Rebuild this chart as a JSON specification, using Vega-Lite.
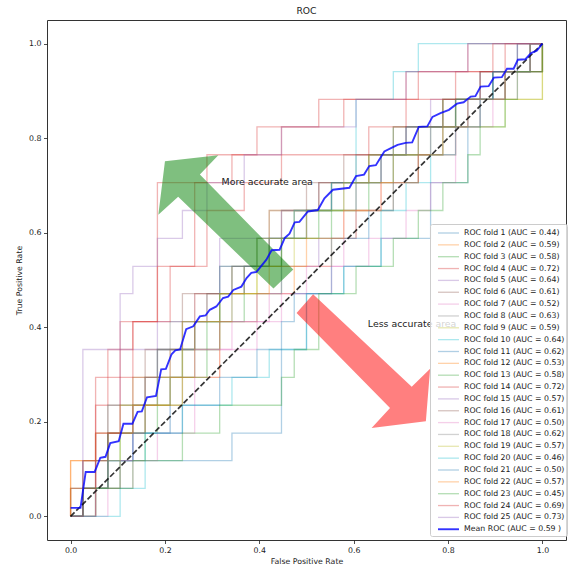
{
  "$schema": "https://vega.github.io/schema/vega-lite/v6.json",
  "width": 519,
  "height": 520,
  "autosize": {"type": "none"},
  "padding": {"left": 47, "top": 20, "right": 20, "bottom": 34},
  "title": {"text": "ROC", "frame": "group", "anchor": "middle", "font": "DejaVu Sans", "fontSize": 9.2, "fontWeight": "normal", "color": "#222", "offset": 4},
  "datasets": {
    "labels": [
      {"f": 1, "label": "ROC fold 1 (AUC = 0.44)"},
      {"f": 2, "label": "ROC fold 2 (AUC = 0.59)"},
      {"f": 3, "label": "ROC fold 3 (AUC = 0.58)"},
      {"f": 4, "label": "ROC fold 4 (AUC = 0.72)"},
      {"f": 5, "label": "ROC fold 5 (AUC = 0.64)"},
      {"f": 6, "label": "ROC fold 6 (AUC = 0.61)"},
      {"f": 7, "label": "ROC fold 7 (AUC = 0.52)"},
      {"f": 8, "label": "ROC fold 8 (AUC = 0.63)"},
      {"f": 9, "label": "ROC fold 9 (AUC = 0.59)"},
      {"f": 10, "label": "ROC fold 10 (AUC = 0.64)"},
      {"f": 11, "label": "ROC fold 11 (AUC = 0.62)"},
      {"f": 12, "label": "ROC fold 12 (AUC = 0.53)"},
      {"f": 13, "label": "ROC fold 13 (AUC = 0.58)"},
      {"f": 14, "label": "ROC fold 14 (AUC = 0.72)"},
      {"f": 15, "label": "ROC fold 15 (AUC = 0.57)"},
      {"f": 16, "label": "ROC fold 16 (AUC = 0.61)"},
      {"f": 17, "label": "ROC fold 17 (AUC = 0.50)"},
      {"f": 18, "label": "ROC fold 18 (AUC = 0.62)"},
      {"f": 19, "label": "ROC fold 19 (AUC = 0.57)"},
      {"f": 20, "label": "ROC fold 20 (AUC = 0.46)"},
      {"f": 21, "label": "ROC fold 21 (AUC = 0.50)"},
      {"f": 22, "label": "ROC fold 22 (AUC = 0.57)"},
      {"f": 23, "label": "ROC fold 23 (AUC = 0.45)"},
      {"f": 24, "label": "ROC fold 24 (AUC = 0.69)"},
      {"f": 25, "label": "ROC fold 25 (AUC = 0.73)"},
      {"f": 26, "label": "Mean ROC (AUC = 0.59 )"}
    ],
    "folds": [
      {"f":1,"x":0,"y":0},{"f":1,"x":0.026,"y":0.059},{"f":1,"x":0.079,"y":0.118},{"f":1,"x":0.342,"y":0.176},{"f":1,"x":0.447,"y":0.353},{"f":1,"x":0.5,"y":0.471},{"f":1,"x":0.579,"y":0.529},{"f":1,"x":0.658,"y":0.588},{"f":1,"x":0.763,"y":0.706},{"f":1,"x":0.842,"y":0.824},{"f":1,"x":0.868,"y":0.941},{"f":1,"x":0.947,"y":1},{"f":1,"x":1,"y":1},
      {"f":2,"x":0,"y":0},{"f":2,"x":0,"y":0.118},{"f":2,"x":0.079,"y":0.176},{"f":2,"x":0.132,"y":0.294},{"f":2,"x":0.211,"y":0.353},{"f":2,"x":0.263,"y":0.471},{"f":2,"x":0.342,"y":0.529},{"f":2,"x":0.421,"y":0.647},{"f":2,"x":0.526,"y":0.706},{"f":2,"x":0.632,"y":0.765},{"f":2,"x":0.711,"y":0.824},{"f":2,"x":0.789,"y":0.882},{"f":2,"x":0.868,"y":0.941},{"f":2,"x":0.974,"y":1},{"f":2,"x":1,"y":1},
      {"f":3,"x":0,"y":0},{"f":3,"x":0.053,"y":0.059},{"f":3,"x":0.105,"y":0.176},{"f":3,"x":0.184,"y":0.235},{"f":3,"x":0.237,"y":0.353},{"f":3,"x":0.316,"y":0.471},{"f":3,"x":0.368,"y":0.529},{"f":3,"x":0.447,"y":0.588},{"f":3,"x":0.553,"y":0.647},{"f":3,"x":0.632,"y":0.765},{"f":3,"x":0.684,"y":0.824},{"f":3,"x":0.789,"y":0.882},{"f":3,"x":0.895,"y":0.941},{"f":3,"x":1,"y":1},
      {"f":4,"x":0,"y":0},{"f":4,"x":0.026,"y":0.118},{"f":4,"x":0.053,"y":0.235},{"f":4,"x":0.079,"y":0.353},{"f":4,"x":0.132,"y":0.412},{"f":4,"x":0.184,"y":0.529},{"f":4,"x":0.263,"y":0.706},{"f":4,"x":0.342,"y":0.765},{"f":4,"x":0.447,"y":0.824},{"f":4,"x":0.579,"y":0.882},{"f":4,"x":0.711,"y":0.941},{"f":4,"x":0.842,"y":1},{"f":4,"x":1,"y":1},
      {"f":5,"x":0,"y":0},{"f":5,"x":0.026,"y":0.059},{"f":5,"x":0.079,"y":0.176},{"f":5,"x":0.105,"y":0.353},{"f":5,"x":0.184,"y":0.412},{"f":5,"x":0.263,"y":0.471},{"f":5,"x":0.316,"y":0.588},{"f":5,"x":0.447,"y":0.647},{"f":5,"x":0.526,"y":0.706},{"f":5,"x":0.632,"y":0.765},{"f":5,"x":0.711,"y":0.824},{"f":5,"x":0.763,"y":0.882},{"f":5,"x":0.868,"y":0.941},{"f":5,"x":0.947,"y":1},{"f":5,"x":1,"y":1},
      {"f":6,"x":0,"y":0},{"f":6,"x":0,"y":0.059},{"f":6,"x":0.053,"y":0.118},{"f":6,"x":0.079,"y":0.235},{"f":6,"x":0.158,"y":0.353},{"f":6,"x":0.237,"y":0.412},{"f":6,"x":0.289,"y":0.471},{"f":6,"x":0.368,"y":0.529},{"f":6,"x":0.447,"y":0.647},{"f":6,"x":0.553,"y":0.706},{"f":6,"x":0.658,"y":0.765},{"f":6,"x":0.737,"y":0.824},{"f":6,"x":0.816,"y":0.882},{"f":6,"x":0.921,"y":0.941},{"f":6,"x":1,"y":1},
      {"f":7,"x":0,"y":0},{"f":7,"x":0.079,"y":0.059},{"f":7,"x":0.132,"y":0.176},{"f":7,"x":0.211,"y":0.294},{"f":7,"x":0.316,"y":0.353},{"f":7,"x":0.395,"y":0.412},{"f":7,"x":0.447,"y":0.471},{"f":7,"x":0.553,"y":0.529},{"f":7,"x":0.632,"y":0.588},{"f":7,"x":0.711,"y":0.647},{"f":7,"x":0.763,"y":0.706},{"f":7,"x":0.816,"y":0.824},{"f":7,"x":0.895,"y":0.882},{"f":7,"x":0.947,"y":0.941},{"f":7,"x":0.974,"y":1},{"f":7,"x":1,"y":1},
      {"f":8,"x":0,"y":0},{"f":8,"x":0.026,"y":0.118},{"f":8,"x":0.079,"y":0.235},{"f":8,"x":0.158,"y":0.294},{"f":8,"x":0.211,"y":0.412},{"f":8,"x":0.289,"y":0.471},{"f":8,"x":0.368,"y":0.529},{"f":8,"x":0.421,"y":0.647},{"f":8,"x":0.526,"y":0.706},{"f":8,"x":0.605,"y":0.765},{"f":8,"x":0.711,"y":0.824},{"f":8,"x":0.789,"y":0.882},{"f":8,"x":0.895,"y":0.941},{"f":8,"x":0.974,"y":1},{"f":8,"x":1,"y":1},
      {"f":9,"x":0,"y":0},{"f":9,"x":0.053,"y":0.059},{"f":9,"x":0.079,"y":0.176},{"f":9,"x":0.158,"y":0.294},{"f":9,"x":0.237,"y":0.353},{"f":9,"x":0.316,"y":0.471},{"f":9,"x":0.395,"y":0.529},{"f":9,"x":0.474,"y":0.647},{"f":9,"x":0.553,"y":0.706},{"f":9,"x":0.632,"y":0.765},{"f":9,"x":0.737,"y":0.824},{"f":9,"x":0.816,"y":0.882},{"f":9,"x":1,"y":1},
      {"f":10,"x":0,"y":0},{"f":10,"x":0.026,"y":0.059},{"f":10,"x":0.079,"y":0.118},{"f":10,"x":0.132,"y":0.176},{"f":10,"x":0.211,"y":0.294},{"f":10,"x":0.263,"y":0.412},{"f":10,"x":0.342,"y":0.529},{"f":10,"x":0.421,"y":0.588},{"f":10,"x":0.474,"y":0.647},{"f":10,"x":0.553,"y":0.706},{"f":10,"x":0.605,"y":0.882},{"f":10,"x":0.684,"y":0.941},{"f":10,"x":0.737,"y":1},{"f":10,"x":1,"y":1},
      {"f":11,"x":0,"y":0},{"f":11,"x":0.053,"y":0.059},{"f":11,"x":0.079,"y":0.118},{"f":11,"x":0.132,"y":0.235},{"f":11,"x":0.184,"y":0.353},{"f":11,"x":0.263,"y":0.412},{"f":11,"x":0.316,"y":0.529},{"f":11,"x":0.395,"y":0.588},{"f":11,"x":0.5,"y":0.647},{"f":11,"x":0.553,"y":0.706},{"f":11,"x":0.658,"y":0.765},{"f":11,"x":0.711,"y":0.824},{"f":11,"x":0.816,"y":0.882},{"f":11,"x":0.895,"y":0.941},{"f":11,"x":1,"y":1},
      {"f":12,"x":0,"y":0},{"f":12,"x":0,"y":0.059},{"f":12,"x":0.079,"y":0.176},{"f":12,"x":0.158,"y":0.235},{"f":12,"x":0.237,"y":0.294},{"f":12,"x":0.316,"y":0.412},{"f":12,"x":0.395,"y":0.471},{"f":12,"x":0.474,"y":0.529},{"f":12,"x":0.553,"y":0.588},{"f":12,"x":0.605,"y":0.647},{"f":12,"x":0.684,"y":0.706},{"f":12,"x":0.737,"y":0.765},{"f":12,"x":0.816,"y":0.824},{"f":12,"x":0.868,"y":0.882},{"f":12,"x":0.921,"y":0.941},{"f":12,"x":1,"y":1},
      {"f":13,"x":0,"y":0},{"f":13,"x":0.026,"y":0.059},{"f":13,"x":0.105,"y":0.118},{"f":13,"x":0.158,"y":0.235},{"f":13,"x":0.211,"y":0.294},{"f":13,"x":0.289,"y":0.412},{"f":13,"x":0.368,"y":0.471},{"f":13,"x":0.447,"y":0.588},{"f":13,"x":0.526,"y":0.647},{"f":13,"x":0.605,"y":0.706},{"f":13,"x":0.684,"y":0.765},{"f":13,"x":0.763,"y":0.824},{"f":13,"x":0.816,"y":0.882},{"f":13,"x":0.921,"y":0.941},{"f":13,"x":0.974,"y":1},{"f":13,"x":1,"y":1},
      {"f":14,"x":0,"y":0},{"f":14,"x":0.053,"y":0.294},{"f":14,"x":0.105,"y":0.412},{"f":14,"x":0.184,"y":0.706},{"f":14,"x":0.289,"y":0.765},{"f":14,"x":0.395,"y":0.824},{"f":14,"x":0.526,"y":0.882},{"f":14,"x":0.737,"y":0.941},{"f":14,"x":0.921,"y":1},{"f":14,"x":1,"y":1},
      {"f":15,"x":0,"y":0},{"f":15,"x":0.026,"y":0.059},{"f":15,"x":0.079,"y":0.118},{"f":15,"x":0.132,"y":0.176},{"f":15,"x":0.158,"y":0.294},{"f":15,"x":0.237,"y":0.353},{"f":15,"x":0.316,"y":0.412},{"f":15,"x":0.395,"y":0.471},{"f":15,"x":0.447,"y":0.529},{"f":15,"x":0.526,"y":0.588},{"f":15,"x":0.605,"y":0.706},{"f":15,"x":0.684,"y":0.765},{"f":15,"x":0.763,"y":0.824},{"f":15,"x":0.842,"y":0.882},{"f":15,"x":0.921,"y":0.941},{"f":15,"x":0.974,"y":1},{"f":15,"x":1,"y":1},
      {"f":16,"x":0,"y":0},{"f":16,"x":0,"y":0.059},{"f":16,"x":0.026,"y":0.118},{"f":16,"x":0.079,"y":0.176},{"f":16,"x":0.132,"y":0.294},{"f":16,"x":0.184,"y":0.353},{"f":16,"x":0.237,"y":0.471},{"f":16,"x":0.342,"y":0.529},{"f":16,"x":0.421,"y":0.588},{"f":16,"x":0.5,"y":0.706},{"f":16,"x":0.579,"y":0.765},{"f":16,"x":0.684,"y":0.824},{"f":16,"x":0.789,"y":0.882},{"f":16,"x":0.868,"y":0.941},{"f":16,"x":1,"y":1},
      {"f":17,"x":0,"y":0},{"f":17,"x":0.053,"y":0.059},{"f":17,"x":0.105,"y":0.118},{"f":17,"x":0.184,"y":0.176},{"f":17,"x":0.263,"y":0.353},{"f":17,"x":0.342,"y":0.412},{"f":17,"x":0.421,"y":0.471},{"f":17,"x":0.5,"y":0.529},{"f":17,"x":0.579,"y":0.647},{"f":17,"x":0.658,"y":0.706},{"f":17,"x":0.737,"y":0.765},{"f":17,"x":0.816,"y":0.824},{"f":17,"x":0.868,"y":0.882},{"f":17,"x":0.921,"y":0.941},{"f":17,"x":0.974,"y":1},{"f":17,"x":1,"y":1},
      {"f":18,"x":0,"y":0},{"f":18,"x":0.026,"y":0.059},{"f":18,"x":0.053,"y":0.176},{"f":18,"x":0.132,"y":0.235},{"f":18,"x":0.184,"y":0.353},{"f":18,"x":0.263,"y":0.412},{"f":18,"x":0.316,"y":0.529},{"f":18,"x":0.395,"y":0.588},{"f":18,"x":0.474,"y":0.647},{"f":18,"x":0.579,"y":0.706},{"f":18,"x":0.658,"y":0.765},{"f":18,"x":0.737,"y":0.824},{"f":18,"x":0.816,"y":0.882},{"f":18,"x":0.895,"y":0.941},{"f":18,"x":0.947,"y":1},{"f":18,"x":1,"y":1},
      {"f":19,"x":0,"y":0},{"f":19,"x":0.026,"y":0.059},{"f":19,"x":0.079,"y":0.118},{"f":19,"x":0.105,"y":0.235},{"f":19,"x":0.184,"y":0.294},{"f":19,"x":0.237,"y":0.412},{"f":19,"x":0.316,"y":0.471},{"f":19,"x":0.395,"y":0.588},{"f":19,"x":0.5,"y":0.647},{"f":19,"x":0.579,"y":0.706},{"f":19,"x":0.684,"y":0.765},{"f":19,"x":0.789,"y":0.824},{"f":19,"x":0.921,"y":0.882},{"f":19,"x":1,"y":1},
      {"f":20,"x":0,"y":0},{"f":20,"x":0.105,"y":0.059},{"f":20,"x":0.158,"y":0.176},{"f":20,"x":0.237,"y":0.235},{"f":20,"x":0.342,"y":0.294},{"f":20,"x":0.421,"y":0.353},{"f":20,"x":0.5,"y":0.471},{"f":20,"x":0.579,"y":0.529},{"f":20,"x":0.658,"y":0.647},{"f":20,"x":0.711,"y":0.706},{"f":20,"x":0.763,"y":0.765},{"f":20,"x":0.816,"y":0.824},{"f":20,"x":0.868,"y":0.882},{"f":20,"x":0.921,"y":0.941},{"f":20,"x":0.974,"y":1},{"f":20,"x":1,"y":1},
      {"f":21,"x":0,"y":0},{"f":21,"x":0.026,"y":0.059},{"f":21,"x":0.079,"y":0.176},{"f":21,"x":0.237,"y":0.235},{"f":21,"x":0.316,"y":0.294},{"f":21,"x":0.395,"y":0.353},{"f":21,"x":0.447,"y":0.412},{"f":21,"x":0.474,"y":0.471},{"f":21,"x":0.553,"y":0.588},{"f":21,"x":0.632,"y":0.647},{"f":21,"x":0.684,"y":0.706},{"f":21,"x":0.737,"y":0.765},{"f":21,"x":0.789,"y":0.824},{"f":21,"x":0.842,"y":0.882},{"f":21,"x":0.895,"y":0.941},{"f":21,"x":0.974,"y":1},{"f":21,"x":1,"y":1},
      {"f":22,"x":0,"y":0},{"f":22,"x":0,"y":0.118},{"f":22,"x":0.053,"y":0.176},{"f":22,"x":0.132,"y":0.235},{"f":22,"x":0.211,"y":0.294},{"f":22,"x":0.263,"y":0.412},{"f":22,"x":0.342,"y":0.471},{"f":22,"x":0.421,"y":0.529},{"f":22,"x":0.5,"y":0.588},{"f":22,"x":0.579,"y":0.647},{"f":22,"x":0.658,"y":0.706},{"f":22,"x":0.737,"y":0.765},{"f":22,"x":0.789,"y":0.824},{"f":22,"x":0.842,"y":0.882},{"f":22,"x":0.921,"y":0.941},{"f":22,"x":0.974,"y":1},{"f":22,"x":1,"y":1},
      {"f":23,"x":0,"y":0},{"f":23,"x":0.026,"y":0.059},{"f":23,"x":0.132,"y":0.118},{"f":23,"x":0.237,"y":0.176},{"f":23,"x":0.316,"y":0.235},{"f":23,"x":0.447,"y":0.294},{"f":23,"x":0.474,"y":0.353},{"f":23,"x":0.526,"y":0.471},{"f":23,"x":0.605,"y":0.529},{"f":23,"x":0.684,"y":0.588},{"f":23,"x":0.737,"y":0.647},{"f":23,"x":0.789,"y":0.706},{"f":23,"x":0.842,"y":0.765},{"f":23,"x":0.868,"y":0.824},{"f":23,"x":0.921,"y":0.882},{"f":23,"x":0.947,"y":0.941},{"f":23,"x":1,"y":1},
      {"f":24,"x":0,"y":0},{"f":24,"x":0.026,"y":0.059},{"f":24,"x":0.053,"y":0.176},{"f":24,"x":0.105,"y":0.294},{"f":24,"x":0.132,"y":0.412},{"f":24,"x":0.211,"y":0.529},{"f":24,"x":0.289,"y":0.647},{"f":24,"x":0.368,"y":0.706},{"f":24,"x":0.447,"y":0.765},{"f":24,"x":0.632,"y":0.824},{"f":24,"x":0.711,"y":0.882},{"f":24,"x":0.816,"y":0.941},{"f":24,"x":0.895,"y":1},{"f":24,"x":1,"y":1},
      {"f":25,"x":0,"y":0},{"f":25,"x":0.026,"y":0.353},{"f":25,"x":0.105,"y":0.471},{"f":25,"x":0.132,"y":0.529},{"f":25,"x":0.184,"y":0.588},{"f":25,"x":0.237,"y":0.647},{"f":25,"x":0.289,"y":0.706},{"f":25,"x":0.368,"y":0.765},{"f":25,"x":0.447,"y":0.824},{"f":25,"x":0.605,"y":0.882},{"f":25,"x":0.711,"y":0.941},{"f":25,"x":0.842,"y":1},{"f":25,"x":1,"y":1}
    ],
    "mean": [
      {"f":26,"x":0,"y":0.018},{"f":26,"x":0.021,"y":0.018},{"f":26,"x":0.032,"y":0.094},{"f":26,"x":0.051,"y":0.094},{"f":26,"x":0.063,"y":0.124},{"f":26,"x":0.074,"y":0.126},{"f":26,"x":0.084,"y":0.155},{"f":26,"x":0.102,"y":0.159},{"f":26,"x":0.112,"y":0.196},{"f":26,"x":0.131,"y":0.196},{"f":26,"x":0.142,"y":0.221},{"f":26,"x":0.151,"y":0.222},{"f":26,"x":0.162,"y":0.252},{"f":26,"x":0.181,"y":0.255},{"f":26,"x":0.192,"y":0.311},{"f":26,"x":0.202,"y":0.312},{"f":26,"x":0.214,"y":0.343},{"f":26,"x":0.222,"y":0.351},{"f":26,"x":0.232,"y":0.353},{"f":26,"x":0.245,"y":0.396},{"f":26,"x":0.26,"y":0.402},{"f":26,"x":0.274,"y":0.423},{"f":26,"x":0.286,"y":0.425},{"f":26,"x":0.295,"y":0.437},{"f":26,"x":0.309,"y":0.444},{"f":26,"x":0.323,"y":0.462},{"f":26,"x":0.334,"y":0.465},{"f":26,"x":0.345,"y":0.479},{"f":26,"x":0.362,"y":0.486},{"f":26,"x":0.373,"y":0.504},{"f":26,"x":0.383,"y":0.515},{"f":26,"x":0.394,"y":0.517},{"f":26,"x":0.415,"y":0.543},{"f":26,"x":0.426,"y":0.563},{"f":26,"x":0.443,"y":0.564},{"f":26,"x":0.454,"y":0.589},{"f":26,"x":0.464,"y":0.598},{"f":26,"x":0.475,"y":0.622},{"f":26,"x":0.485,"y":0.623},{"f":26,"x":0.503,"y":0.645},{"f":26,"x":0.524,"y":0.648},{"f":26,"x":0.538,"y":0.673},{"f":26,"x":0.556,"y":0.691},{"f":26,"x":0.591,"y":0.695},{"f":26,"x":0.605,"y":0.72},{"f":26,"x":0.622,"y":0.723},{"f":26,"x":0.633,"y":0.741},{"f":26,"x":0.647,"y":0.743},{"f":26,"x":0.665,"y":0.772},{"f":26,"x":0.679,"y":0.779},{"f":26,"x":0.693,"y":0.786},{"f":26,"x":0.71,"y":0.79},{"f":26,"x":0.724,"y":0.791},{"f":26,"x":0.738,"y":0.824},{"f":26,"x":0.756,"y":0.825},{"f":26,"x":0.767,"y":0.845},{"f":26,"x":0.784,"y":0.853},{"f":26,"x":0.802,"y":0.86},{"f":26,"x":0.819,"y":0.873},{"f":26,"x":0.833,"y":0.876},{"f":26,"x":0.848,"y":0.888},{"f":26,"x":0.858,"y":0.889},{"f":26,"x":0.869,"y":0.909},{"f":26,"x":0.886,"y":0.91},{"f":26,"x":0.897,"y":0.928},{"f":26,"x":0.914,"y":0.929},{"f":26,"x":0.925,"y":0.947},{"f":26,"x":0.939,"y":0.947},{"f":26,"x":0.948,"y":0.966},{"f":26,"x":0.964,"y":0.967},{"f":26,"x":0.976,"y":0.98},{"f":26,"x":0.988,"y":0.985},{"f":26,"x":1,"y":1}
    ],
    "chance": [{"x": 0, "y": 0}, {"x": 1, "y": 1}],
    "arrowMore": [
      {"x": 0.43, "y": 0.482}, {"x": 0.472, "y": 0.522}, {"x": 0.274, "y": 0.723}, {"x": 0.313, "y": 0.764},
      {"x": 0.2, "y": 0.751}, {"x": 0.186, "y": 0.638}, {"x": 0.228, "y": 0.676}
    ],
    "arrowLess": [
      {"x": 0.479, "y": 0.43}, {"x": 0.514, "y": 0.47}, {"x": 0.723, "y": 0.274}, {"x": 0.762, "y": 0.312},
      {"x": 0.753, "y": 0.201}, {"x": 0.638, "y": 0.187}, {"x": 0.677, "y": 0.229}
    ],
    "notes": [
      {"x": 0.32, "y": 0.7, "t": "More accurate area"},
      {"x": 0.63, "y": 0.4, "t": "Less accurate area"}
    ]
  },
  "encoding": {
    "x": {
      "field": "x", "type": "quantitative", "title": "False Positive Rate",
      "scale": {"domain": [-0.05, 1.05], "nice": false, "zero": false},
      "axis": {"values": [0, 0.2, 0.4, 0.6, 0.8, 1], "format": ".1f", "titlePadding": 3.5}
    },
    "y": {
      "field": "y", "type": "quantitative", "title": "True Positive Rate",
      "scale": {"domain": [-0.05, 1.05], "nice": false, "zero": false},
      "axis": {"values": [0, 0.2, 0.4, 0.6, 0.8, 1], "format": ".1f", "titlePadding": 5}
    }
  },
  "layer": [
    {
      "data": {"name": "folds"},
      "transform": [{"lookup": "f", "from": {"data": {"name": "labels"}, "key": "f", "fields": ["label"]}}],
      "mark": {"type": "line", "interpolate": "step-after"},
      "encoding": {
        "color": {
          "field": "label", "type": "nominal", "legend": {"title": null},
          "scale": {
            "domain": ["ROC fold 1 (AUC = 0.44)", "ROC fold 2 (AUC = 0.59)", "ROC fold 3 (AUC = 0.58)", "ROC fold 4 (AUC = 0.72)", "ROC fold 5 (AUC = 0.64)", "ROC fold 6 (AUC = 0.61)", "ROC fold 7 (AUC = 0.52)", "ROC fold 8 (AUC = 0.63)", "ROC fold 9 (AUC = 0.59)", "ROC fold 10 (AUC = 0.64)", "ROC fold 11 (AUC = 0.62)", "ROC fold 12 (AUC = 0.53)", "ROC fold 13 (AUC = 0.58)", "ROC fold 14 (AUC = 0.72)", "ROC fold 15 (AUC = 0.57)", "ROC fold 16 (AUC = 0.61)", "ROC fold 17 (AUC = 0.50)", "ROC fold 18 (AUC = 0.62)", "ROC fold 19 (AUC = 0.57)", "ROC fold 20 (AUC = 0.46)", "ROC fold 21 (AUC = 0.50)", "ROC fold 22 (AUC = 0.57)", "ROC fold 23 (AUC = 0.45)", "ROC fold 24 (AUC = 0.69)", "ROC fold 25 (AUC = 0.73)", "Mean ROC (AUC = 0.59 )"],
            "range": ["#1f77b4", "#ff7f0e", "#2ca02c", "#d62728", "#9467bd", "#8c564b", "#e377c2", "#7f7f7f", "#bcbd22", "#17becf", "#1f77b4", "#ff7f0e", "#2ca02c", "#d62728", "#9467bd", "#8c564b", "#e377c2", "#7f7f7f", "#bcbd22", "#17becf", "#1f77b4", "#ff7f0e", "#2ca02c", "#d62728", "#9467bd", "#0000ff"]
          }
        },
        "opacity": {
          "field": "label", "type": "nominal", "legend": {"title": null},
          "scale": {
            "type": "ordinal",
            "domain": ["ROC fold 1 (AUC = 0.44)", "ROC fold 2 (AUC = 0.59)", "ROC fold 3 (AUC = 0.58)", "ROC fold 4 (AUC = 0.72)", "ROC fold 5 (AUC = 0.64)", "ROC fold 6 (AUC = 0.61)", "ROC fold 7 (AUC = 0.52)", "ROC fold 8 (AUC = 0.63)", "ROC fold 9 (AUC = 0.59)", "ROC fold 10 (AUC = 0.64)", "ROC fold 11 (AUC = 0.62)", "ROC fold 12 (AUC = 0.53)", "ROC fold 13 (AUC = 0.58)", "ROC fold 14 (AUC = 0.72)", "ROC fold 15 (AUC = 0.57)", "ROC fold 16 (AUC = 0.61)", "ROC fold 17 (AUC = 0.50)", "ROC fold 18 (AUC = 0.62)", "ROC fold 19 (AUC = 0.57)", "ROC fold 20 (AUC = 0.46)", "ROC fold 21 (AUC = 0.50)", "ROC fold 22 (AUC = 0.57)", "ROC fold 23 (AUC = 0.45)", "ROC fold 24 (AUC = 0.69)", "ROC fold 25 (AUC = 0.73)", "Mean ROC (AUC = 0.59 )"],
            "range": [0.35, 0.35, 0.35, 0.35, 0.35, 0.35, 0.35, 0.35, 0.35, 0.35, 0.35, 0.35, 0.35, 0.35, 0.35, 0.35, 0.35, 0.35, 0.35, 0.35, 0.35, 0.35, 0.35, 0.35, 0.35, 0.8]
          }
        },
        "strokeWidth": {
          "field": "label", "type": "nominal", "legend": {"title": null},
          "scale": {
            "type": "ordinal",
            "domain": ["ROC fold 1 (AUC = 0.44)", "ROC fold 2 (AUC = 0.59)", "ROC fold 3 (AUC = 0.58)", "ROC fold 4 (AUC = 0.72)", "ROC fold 5 (AUC = 0.64)", "ROC fold 6 (AUC = 0.61)", "ROC fold 7 (AUC = 0.52)", "ROC fold 8 (AUC = 0.63)", "ROC fold 9 (AUC = 0.59)", "ROC fold 10 (AUC = 0.64)", "ROC fold 11 (AUC = 0.62)", "ROC fold 12 (AUC = 0.53)", "ROC fold 13 (AUC = 0.58)", "ROC fold 14 (AUC = 0.72)", "ROC fold 15 (AUC = 0.57)", "ROC fold 16 (AUC = 0.61)", "ROC fold 17 (AUC = 0.50)", "ROC fold 18 (AUC = 0.62)", "ROC fold 19 (AUC = 0.57)", "ROC fold 20 (AUC = 0.46)", "ROC fold 21 (AUC = 0.50)", "ROC fold 22 (AUC = 0.57)", "ROC fold 23 (AUC = 0.45)", "ROC fold 24 (AUC = 0.69)", "ROC fold 25 (AUC = 0.73)", "Mean ROC (AUC = 0.59 )"],
            "range": [1.3, 1.3, 1.3, 1.3, 1.3, 1.3, 1.3, 1.3, 1.3, 1.3, 1.3, 1.3, 1.3, 1.3, 1.3, 1.3, 1.3, 1.3, 1.3, 1.3, 1.3, 1.3, 1.3, 1.3, 1.3, 1.9]
          }
        },
        "order": {"value": null}
      }
    },
    {
      "data": {"name": "arrowMore"},
      "mark": {"type": "line", "fill": "#008000", "fillOpacity": 0.5, "strokeWidth": 0, "strokeOpacity": 0},
      "encoding": {"order": {"value": null}}
    },
    {
      "data": {"name": "arrowLess"},
      "mark": {"type": "line", "fill": "#ff0000", "fillOpacity": 0.5, "strokeWidth": 0, "strokeOpacity": 0},
      "encoding": {"order": {"value": null}}
    },
    {
      "data": {"name": "chance"},
      "mark": {"type": "line", "color": "#000000", "opacity": 0.8, "strokeWidth": 1.7, "strokeDash": [5.6, 2.4]},
      "encoding": {"order": {"value": null}}
    },
    {
      "data": {"name": "mean"},
      "transform": [{"lookup": "f", "from": {"data": {"name": "labels"}, "key": "f", "fields": ["label"]}}],
      "mark": {"type": "line", "interpolate": "linear"},
      "encoding": {
        "color": {"field": "label", "type": "nominal", "legend": {"title": null}},
        "opacity": {"field": "label", "type": "nominal", "legend": {"title": null}, "scale": {"type": "ordinal"}},
        "strokeWidth": {"field": "label", "type": "nominal", "legend": {"title": null}, "scale": {"type": "ordinal"}},
        "order": {"value": null}
      }
    },
    {
      "data": {"name": "notes"},
      "mark": {"type": "text", "align": "left", "baseline": "alphabetic", "font": "DejaVu Sans", "fontSize": 9.4, "color": "#222"},
      "encoding": {"text": {"field": "t", "type": "nominal"}}
    }
  ],
  "config": {
    "font": "DejaVu Sans",
    "view": {"stroke": "#333", "strokeWidth": 1},
    "axis": {
      "domain": false, "grid": false, "tickSize": 3.5, "tickColor": "#222", "tickWidth": 0.8,
      "labelFont": "DejaVu Sans", "labelFontSize": 7.8, "labelColor": "#222", "labelPadding": 2.5,
      "labelFlush": false, "labelOverlap": false,
      "titleFont": "DejaVu Sans", "titleFontSize": 7.8, "titleFontWeight": "normal", "titleColor": "#222"
    },
    "legend": {
      "orient": "none", "legendX": 383, "legendY": 204, "padding": 2,
      "fillColor": "rgba(255,255,255,0.8)", "strokeColor": "#cccccc", "cornerRadius": 2,
      "symbolSize": 144, "symbolType": "M-0.17,0L3.33,0",
      "labelFont": "DejaVu Sans", "labelFontSize": 7.8, "labelColor": "#222", "labelOffset": 18,
      "rowPadding": 0.85, "labelLimit": 300
    }
  }
}
